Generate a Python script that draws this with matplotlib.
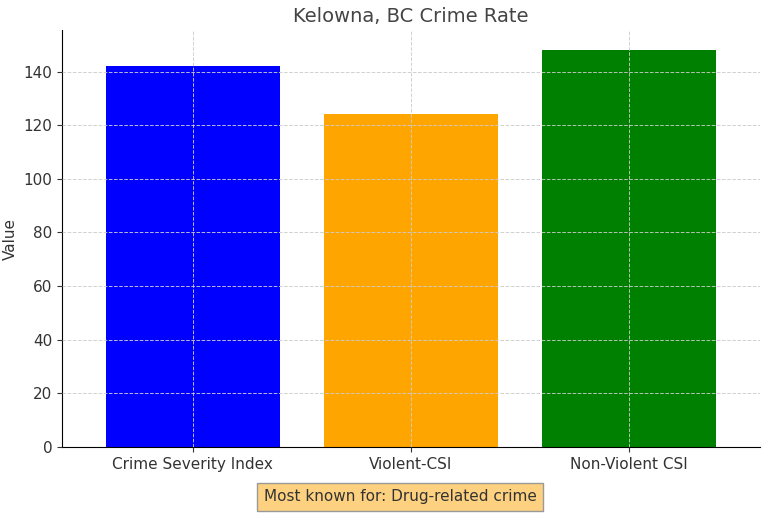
import matplotlib
matplotlib.use("Agg")
import matplotlib.pyplot as plt

categories = ["Crime Severity Index", "Violent-CSI", "Non-Violent CSI"]
values = [142, 124, 148]
colors = ["blue", "orange", "green"]

fig = plt.figure(figsize=(7.68, 5.13), dpi=100)
ax = fig.add_axes([62/768, 1-447/513, 698/768, 417/513])
ax.bar(categories, values, color=colors)
ax.set_ylim(0, 155.5)
ax.set_xlim(-0.6, 2.6)
ax.set_ylabel("Value", fontsize=11, color="#333333")
ax.set_title("Kelowna, BC Crime Rate", fontsize=14, color="#444444")
ax.grid(True, linestyle="--", linewidth=0.7, color="#cccccc", alpha=0.9)
ax.set_axisbelow(False)
for s in ["top", "right"]:
    ax.spines[s].set_visible(False)
ax.tick_params(labelsize=11, colors="#333333")
fig.text(400/768, 1-497/513, "Most known for: Drug-related crime", ha="center", va="center",
         fontsize=11, color="#333333",
         bbox=dict(boxstyle="square,pad=0.4", facecolor="#fdd17f", edgecolor="#999999"))
fig.savefig("out.png", dpi=100)
